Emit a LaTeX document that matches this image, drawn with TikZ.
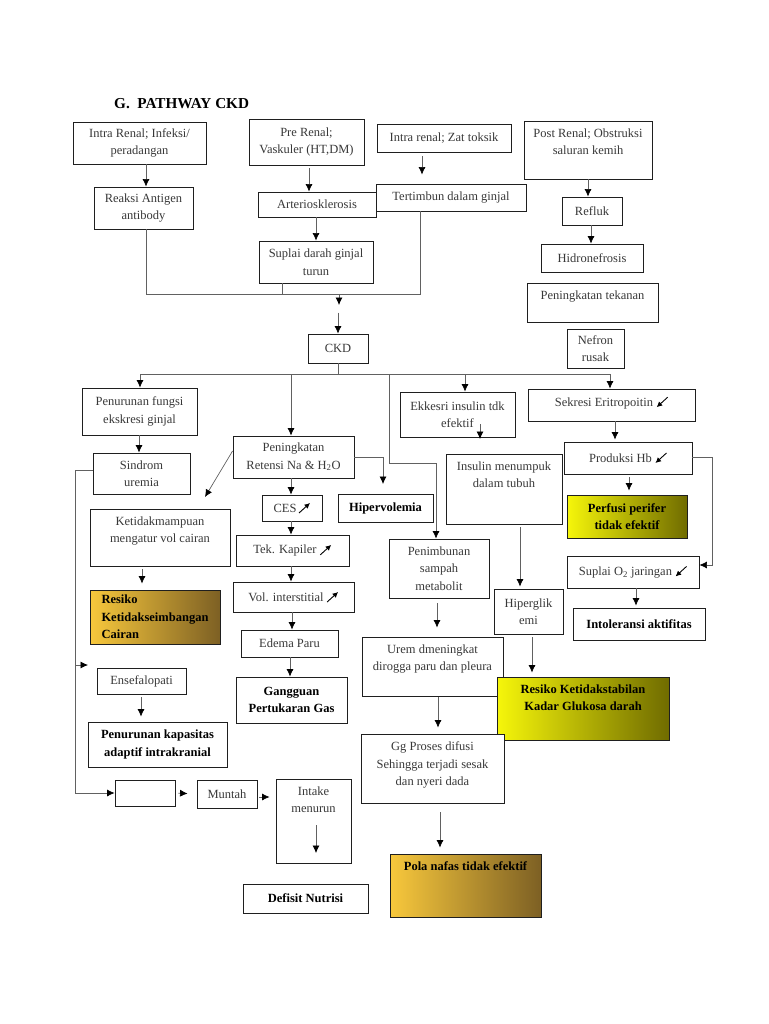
\documentclass[tikz,border=0pt]{standalone}
\usepackage{fontspec}
\setmainfont{Liberation Serif}
\usetikzlibrary{arrows.meta,calc}
\newcommand\arrUp{\tikz[baseline=0pt]\draw[black,line width=0.9pt,-{Latex[length=5.5pt,width=5.5pt]}] (0pt,-1pt) -- (11pt,9pt);}
\newcommand\arrDn{\tikz[baseline=0pt]\draw[black,line width=0.9pt,-{Latex[length=5.5pt,width=5.5pt]}] (11pt,9pt) -- (0pt,-1pt);}
\definecolor{gold1}{RGB}{248,200,60}
\definecolor{gold2}{RGB}{125,96,36}
\definecolor{yel1}{RGB}{246,246,10}
\definecolor{yel2}{RGB}{112,108,0}
\tikzset{
  box/.style={draw=black!88, line width=0.9pt, fill=white, inner sep=0pt, align=center,
    font=\fontsize{12.5}{17.5}\selectfont, text=black!78},
  txt/.style={inner sep=0pt, align=center, font=\fontsize{12.5}{17.5}\selectfont, text=black!78},
  bld/.style={font=\fontsize{12.5}{17.5}\selectfont\bfseries, text=black},
  gold/.style={left color=gold1, right color=gold2},
  yel/.style={left color=yel1, right color=yel2},
  con/.style={draw=black!62, line width=0.7pt},
  arr/.style={con, -{Latex[length=7.5pt,width=7pt,color=black]}},
}
\newcommand\bx[7][]{\node[box,#1,minimum width={(#5-#3)*1pt},minimum height={(#6-#4)*1pt}] (#2) at ({(#3+#5)/2},{(#4+#6)/2}) {#7};}
\newcommand\bxt[7][]{\node[box,#1,minimum width={(#5-#3)*1pt},minimum height={(#6-#4)*1pt}] (#2) at ({(#3+#5)/2},{(#4+#6)/2}) {};
  \node[txt,anchor=north] (#2t) at ([yshift=-8pt]#2.north) {#7};}
\begin{document}
\begin{tikzpicture}[x=1pt,y=-1pt]
\fill[white] (0,0) rectangle (768,1024);
\useasboundingbox (0,0) rectangle (768,1024);

\node[anchor=base west, inner sep=0pt, font=\fontsize{15.2}{17}\selectfont\bfseries] (title) at (114,108.5) {G.\ \ PATHWAY CKD};

% top row
\bx{ir}{73}{122}{206}{164}{Intra Renal; Infeksi/\\peradangan}
\bx{pre}{249}{119}{364}{165}{Pre Renal;\\Vaskuler (HT,DM)}
\bx{zat}{377}{124}{511}{152}{Intra renal; Zat toksik}
\bxt{post}{524}{121}{652}{179}{Post Renal; Obstruksi\\saluran kemih}
\bx{reaksi}{94}{187}{193}{229}{Reaksi Antigen\\antibody}
\bx{arter}{258}{192}{376}{217}{Arteriosklerosis}
\bx{tert}{376}{184}{526}{211}{Tertimbun dalam ginjal}
\bx{refluk}{562}{197}{622}{225}{Refluk}
\bx{hidro}{541}{244}{643}{272}{Hidronefrosis}
\bx{suplai}{259}{241}{373}{283}{Suplai darah ginjal\\turun}
\bxt{tekanan}{527}{283}{658}{322}{Peningkatan tekanan}
\bx{nefron}{567}{329}{624}{368}{Nefron\\rusak}
\bx{ckd}{308}{334}{368}{363}{CKD}

% middle
\bx{pfungsi}{82}{388}{197}{435}{Penurunan fungsi\\ekskresi ginjal}
\bx{sindrom}{93}{453}{190}{494}{Sindrom\\uremia}
\bx{retensi}{233}{436}{354}{478}{Peningkatan\\Retensi Na \& H\textsubscript{2}O}
\bx{ces}{262}{495}{322}{521}{CES\,\arrUp}
\bx[bld]{hiper}{338}{494}{433}{522}{Hipervolemia}
\bxt{ketid}{90}{509}{230}{566}{Ketidakmampuan\\mengatur vol cairan}
\bx{tek}{236}{535}{349}{566}{Tek. Kapiler \arrUp}
\bx{vol}{233}{582}{354}{612}{Vol. interstitial \arrUp}
\bx{edema}{241}{630}{338}{657}{Edema Paru}
\bx[bld]{gas}{236}{677}{347}{723}{Gangguan\\Pertukaran Gas}
\bx[bld,gold,align=left]{rcair}{90}{590}{220}{644}{Resiko\\Ketidakseimbangan\\Cairan}
\bx{ensef}{97}{668}{186}{694}{Ensefalopati}
\bx[bld]{kapas}{88}{722}{227}{767}{Penurunan kapasitas\\adaptif intrakranial}
\bx{blank}{115}{780}{175}{806}{}
\bx{muntah}{197}{780}{257}{808}{Muntah}
\bxt{intake}{276}{779}{351}{863}{Intake\\menurun}
\bx[bld]{defisit}{243}{884}{368}{913}{Defisit Nutrisi}

% right
\bx{ekk}{400}{392}{515}{437}{Ekkesri insulin tdk\\efektif}
\bxt{sekresi}{528}{389}{695}{421}{Sekresi Eritropoitin \arrDn}
\bx{prodhb}{564}{442}{692}{474}{Produksi Hb \arrDn}
\bx[bld,yel]{perfusi}{567}{495}{687}{538}{Perfusi perifer\\tidak efektif}
\bx{suplo}{567}{556}{699}{588}{Suplai O\textsubscript{2} jaringan \arrDn}
\bx[bld]{intol}{573}{608}{705}{640}{Intoleransi aktifitas}
\bxt{insulin}{446}{454}{562}{524}{Insulin menumpuk\\dalam tubuh}
\bx{hipergl}{494}{589}{563}{634}{Hiperglik\\emi}
\bx{penimb}{389}{539}{489}{598}{Penimbunan\\sampah\\metabolit}
\bxt{urem}{362}{637}{503}{696}{Urem dmeningkat\\dirogga paru dan pleura}
\bxt[yel]{rglu}{497}{677}{669}{740}{\bfseries\color{black}Resiko Ketidakstabilan\\\bfseries\color{black}Kadar Glukosa darah}
\bxt{gg}{361}{734}{504}{803}{Gg Proses difusi\\Sehingga terjadi sesak\\dan nyeri dada}
\bxt[gold]{pola}{390}{854}{541}{917}{\bfseries\color{black}Pola nafas tidak efektif}

% ---- connectors top
\draw[arr] (ir.south -| 146,0) -- (reaksi.north -| 146,0);
\draw[arr, shorten <=3pt] (pre.south -| 309,0) -- (arter.north -| 309,0);
\draw[arr] (arter.south -| 316,0) -- (suplai.north -| 316,0);
\draw[arr, shorten <=4pt, shorten >=9pt] (zat.south -| 422,0) -- (tert.north -| 422,0);
\draw[arr] (post.south -| 588,0) -- (refluk.north -| 588,0);
\draw[arr] (refluk.south -| 591,0) -- (hidro.north -| 591,0);

\coordinate (j1) at (146,294);
\coordinate (j2) at (420,294);
\coordinate (j3) at (282,294);
\coordinate (j4) at (339,294);
\coordinate (j5) at (339,305);
\draw[con] (reaksi.south -| j1) -- (j1) -- (j2) -- (tert.south -| j2);
\draw[con] (suplai.south -| j3) -- (j3);
\draw[arr] (j4) -- (j5);
\draw[arr] ([yshift=21pt]ckd.north) -- (ckd.north);

% ---- CKD branches
\coordinate (hL) at (140,374);
\coordinate (hR) at (610,374);
\coordinate (hA) at (291,374);
\coordinate (hB) at (389,374);
\coordinate (hB2) at (389,463);
\coordinate (hB3) at (436,463);
\coordinate (hC) at (465,374);
\draw[con] (hL) -- (hR);
\draw[con] (ckd.south) -- (ckd.south |- hL);
\draw[arr] (hL) -- (pfungsi.north -| hL);
\draw[arr] (hA) -- (retensi.north -| hA);
\draw[con] (hB) -- (hB2) -- (hB3);
\draw[arr] (hB3) -- (penimb.north -| hB3);
\draw[arr] (hC) -- (ekk.north -| hC);
\draw[arr] (hR) -- (sekresi.north -| hR);

% ---- left column
\draw[arr] (pfungsi.south -| 139,0) -- (sindrom.north -| 139,0);
\coordinate (sL) at (75,470);
\draw[arr] (sindrom.west |- sL) -- (sL) -- (sL |- blank.west) -- (blank.west);
\coordinate (e1) at (76,665);
\coordinate (e2) at (88,665);
\draw[arr] (e1) -- (e2);
\draw[arr, shorten <=3pt, shorten >=6pt] (ketid.south -| 142,0) -- (rcair.north -| 142,0);
\draw[arr, shorten <=3pt, shorten >=5pt] (ensef.south -| 141,0) -- (kapas.north -| 141,0);
\draw[arr, shorten <=3pt, shorten >=9pt] (blank.east) -- (muntah.west);
\draw[arr, shorten <=2pt, shorten >=6pt] (muntah.east |- 0,797) -- (intake.west |- 0,797);
\coordinate (i1) at (316,825);
\coordinate (i2) at (316,853);
\draw[arr] (i1) -- (i2);

% ---- retensi chain
\coordinate (rk) at (205,497);
\draw[arr] (retensi.west |- 0,451) -- (rk);
\coordinate (rh1) at (383,457);
\coordinate (rh2) at (383,484);
\draw[arr] (retensi.east |- rh1) -- (rh1) -- (rh2);
\draw[arr] (retensi.south -| 291,0) -- (ces.north -| 291,0);
\draw[arr] (ces.south -| 291,0) -- (tek.north -| 291,0);
\draw[arr] (tek.south -| 291,0) -- (vol.north -| 291,0);
\draw[arr] (vol.south -| 292,0) -- (edema.north -| 292,0);
\draw[arr] (edema.south -| 290,0) -- (gas.north -| 290,0);

% ---- right column
\coordinate (k1) at (480,424);
\coordinate (k2) at (480,439);
\draw[arr] (k1) -- (k2);
\draw[arr, shorten >=2pt] (sekresi.south -| 615,0) -- (prodhb.north -| 615,0);
\draw[arr, shorten <=3pt, shorten >=4pt] (prodhb.south -| 629,0) -- (perfusi.north -| 629,0);
\coordinate (p1) at (712,457);
\coordinate (p2) at (712,565);
\draw[arr] (prodhb.east |- p1) -- (p1) -- (p2) -- (suplo.east |- p2);
\draw[arr, shorten >=2pt] (suplo.south -| 636,0) -- (intol.north -| 636,0);
\draw[arr, shorten <=3pt, shorten >=2pt] (insulin.south -| 520,0) -- (hipergl.north -| 520,0);
\draw[arr, shorten <=3pt, shorten >=4pt] (hipergl.south -| 532,0) -- (rglu.north -| 532,0);
\draw[arr, shorten <=5pt, shorten >=9pt] (penimb.south -| 437,0) -- (urem.north -| 437,0);
\draw[arr, shorten <=1pt, shorten >=6pt] (urem.south -| 438,0) -- (gg.north -| 438,0);
\draw[arr, shorten <=9pt, shorten >=6pt] (gg.south -| 440,0) -- (pola.north -| 440,0);
\end{tikzpicture}
\end{document}
